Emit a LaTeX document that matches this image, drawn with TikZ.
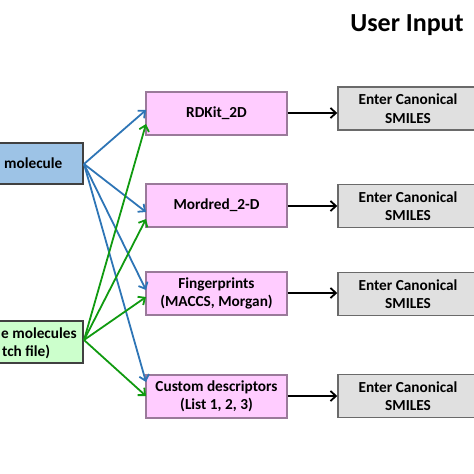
\documentclass[tikz,border=0pt]{standalone}
\usepackage{fontspec}
\setmainfont{Carlito}
\usetikzlibrary{arrows.meta}
\definecolor{bluefill}{HTML}{9DC3E6}
\definecolor{greenfill}{HTML}{CCFFCC}
\definecolor{pinkfill}{HTML}{FFCCFF}
\definecolor{grayfill}{HTML}{E0E0E0}
\definecolor{bluearrow}{HTML}{2E75B6}
\definecolor{greenarrow}{HTML}{109A10}
\definecolor{pinkborder}{HTML}{9A7A9A}
\definecolor{darkborder}{HTML}{404040}
\definecolor{grayborder}{HTML}{6A6A6A}
\tikzset{
  box/.style={draw, line width=1.4pt, inner sep=0pt, align=center, font=\fontsize{15.3}{18.5}\selectfont\bfseries},
  srcbox/.style={box, draw=darkborder},
  pinkbox/.style={box, draw=pinkborder, fill=pinkfill, minimum width=141pt, minimum height=43pt},
  graybox/.style={box, draw=grayborder, fill=grayfill, minimum width=140pt, minimum height=43pt},
  lbl/.style={inner sep=0pt, font=\fontsize{15.3}{18.5}\selectfont\bfseries},
  tip/.style={-{Straight Barb[length=5.5pt,width=10pt,line width=1.8pt]}},
  barrow/.style={draw=bluearrow, line width=1.8pt, tip},
  garrow/.style={draw=greenarrow, line width=1.8pt, tip},
  karrow/.style={draw=black, line width=1.9pt, tip},
}
\begin{document}
\begin{tikzpicture}[x=1pt,y=-1pt]
\useasboundingbox (0,0) rectangle (474,474);
\clip (0,0) rectangle (474,474);
% title
\node[inner sep=0pt, font=\fontsize{26}{30}\selectfont\bfseries] (title) at (407,25) {User Input};
% source boxes
\draw[srcbox, fill=bluefill] (-40,143) rectangle (83,184);
\node[lbl, anchor=west] (single) at (4,163.5) {molecule};
\coordinate (bs) at (84,164);
\draw[srcbox, fill=greenfill] (-40,321) rectangle (83,363);
\node[lbl, anchor=west] (multi1) at (1,333) {e molecules};
\node[lbl, anchor=west] (multi2) at (2,351.5) {tch file)};
\coordinate (gs) at (84,340);
% pink boxes
\node[pinkbox] (rd) at (216.5,113.5) {RDKit\_2D};
\node[pinkbox] (mo) at (216.5,205.5) {Mordred\_2-D};
\node[pinkbox] (fp) at (216.5,293.5) {Fingerprints\\(MACCS, Morgan)};
\node[pinkbox] (cu) at (216.5,396.5) {Custom descriptors\\(List 1, 2, 3)};
% gray boxes
\node[graybox] (g1) at (408,108.5) {Enter Canonical\\SMILES};
\node[graybox] (g2) at (408,206) {Enter Canonical\\SMILES};
\node[graybox] (g3) at (408,294) {Enter Canonical\\SMILES};
\node[graybox] (g4) at (408,396) {Enter Canonical\\SMILES};
% targets on pink boxes
\coordinate (rdb) at (146,110);
\coordinate (rdg) at (146,124);
\coordinate (mob) at (146,212);
\coordinate (mog) at (146,219);
\coordinate (fpb) at (146,290);
\coordinate (fpg) at (146,297);
\coordinate (cub) at (146,382);
\coordinate (cug) at (146,396);
% blue arrows
\draw[barrow] (bs) -- (rdb);
\draw[barrow] (bs) -- (mob);
\draw[barrow] (bs) -- (fpb);
\draw[barrow] (bs) -- (cub);
% green arrows
\draw[garrow] (gs) -- (rdg);
\draw[garrow] (gs) -- (mog);
\draw[garrow] (gs) -- (fpg);
\draw[garrow] (gs) -- (cug);
% black arrows
\draw[karrow] (rd.east |- 0,113) -- (g1.west |- 0,113);
\draw[karrow] (mo.east |- 0,206) -- (g2.west |- 0,206);
\draw[karrow] (fp.east |- 0,293) -- (g3.west |- 0,293);
\draw[karrow] (cu.east |- 0,396) -- (g4.west |- 0,396);
\end{tikzpicture}
\end{document}
